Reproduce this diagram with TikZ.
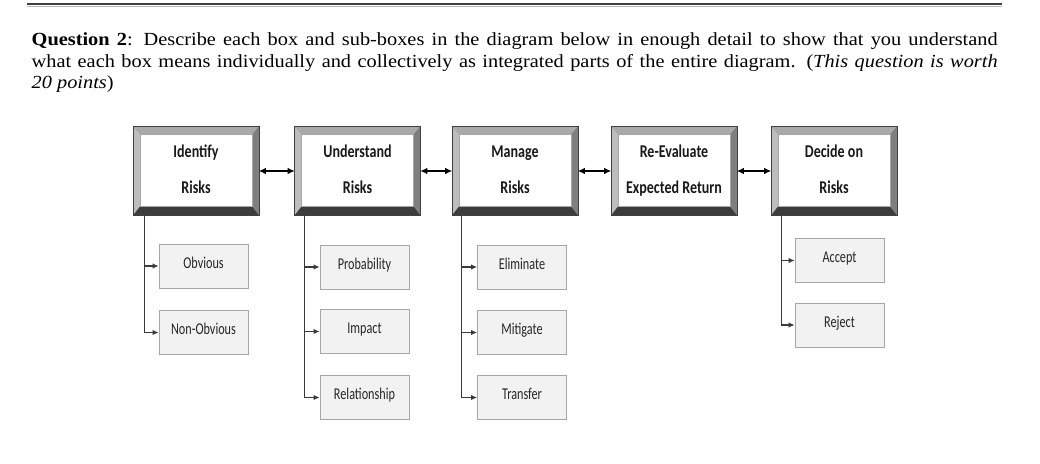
\documentclass[tikz,border=0pt]{standalone}
\usepackage{fontspec}
\setmainfont{Liberation Serif}[FakeStretch=1.1]
\newfontfamily\boxfont{Carlito}[FakeStretch=0.78]
\newfontfamily\subfont{Carlito}[FakeStretch=0.74]
\usetikzlibrary{calc,arrows.meta}
\definecolor{bevtop}{HTML}{A9A9A9}
\definecolor{bevleft}{HTML}{BDBDBD}
\definecolor{bevright}{HTML}{7F7F7F}
\definecolor{bevbot}{HTML}{3C3C3C}
\definecolor{bevmid}{HTML}{8C8C8C}
\definecolor{subfill}{HTML}{F2F2F2}
\definecolor{subdraw}{HTML}{A6A6A6}
\definecolor{linegray}{HTML}{3A3A3A}
\tikzset{
  hdr/.style={anchor=base west, inner sep=0pt, font=\fontsize{18.5}{21}\selectfont},
  mainouter/.style={rectangle, minimum width=125pt, minimum height=88pt, inner sep=0pt, fill=bevmid, draw=black!75, line width=0.6pt},
  maintxt/.style={anchor=base, inner sep=0pt, font=\boxfont\bfseries\fontsize{18}{20}\selectfont, text=black!90},
  subbox/.style={rectangle, minimum width=89pt, minimum height=44pt, inner sep=0pt, fill=subfill, draw=subdraw, line width=0.8pt, font=\subfont\fontsize{16.5}{18}\selectfont, text=black!85, text height=11.5pt, text depth=7.5pt},
  dblarrow/.style={black, line width=1.2pt, {Latex[length=7pt,width=6.5pt]}-{Latex[length=7pt,width=6.5pt]}},
  branch/.style={linegray, line width=1.2pt, -{Latex[length=6pt,width=5.5pt]}},
}
\begin{document}
\begin{tikzpicture}[x=1pt, y=-1pt]
\useasboundingbox (0,0) rectangle (1040,463);
\fill[white] (0,0) rectangle (1040,463);
% top rule
\draw[black!75, line width=2.2pt] (27,4) -- (1002,4);
\draw[gray!55, line width=0.8pt] (27,6) -- (1002,6);
% header text
\node[hdr] (q1) at (31.5,45) {\makebox[966pt][s]{\textbf{Question 2}: Describe each box and sub-boxes in the diagram below in enough detail to show that you understand}};
\node[hdr] (q2) at (31.5,67) {\makebox[966pt][s]{what each box means individually and collectively as integrated parts of the entire diagram. (\textit{This question is worth}}};
\node[hdr] (q3) at (31.5,88) {\textit{20 points})};
% main boxes
\foreach \n/\x/\ta/\tb in {b1/196/Identify/Risks, b2/357.5/Understand/Risks, b3/515/Manage/Risks, b4/674/Re-Evaluate/Expected Return, b5/834/Decide on/Risks}{
  \node[mainouter] (\n) at (\x,171) {};
  \fill[bevtop] (\n.north west) -- (\n.north east) -- ($(\n.north east)+(-7,8)$) -- ($(\n.north west)+(7,8)$) -- cycle;
  \fill[bevleft] (\n.north west) -- ($(\n.north west)+(7,8)$) -- ($(\n.south west)+(7,-9)$) -- (\n.south west) -- cycle;
  \fill[bevright] (\n.north east) -- (\n.south east) -- ($(\n.south east)+(-7,-9)$) -- ($(\n.north east)+(-7,8)$) -- cycle;
  \fill[bevbot] (\n.south west) -- (\n.south east) -- ($(\n.south east)+(-7,-9)$) -- ($(\n.south west)+(7,-9)$) -- cycle;
  \draw[black!75, line width=0.6pt] (\n.north west) rectangle (\n.south east);
  \filldraw[fill=white, draw=gray!70, line width=0.5pt] ($(\n.north west)+(7,8)$) rectangle ($(\n.south east)+(-7,-9)$);
  \node[maintxt] (\n-a) at ($(\n.center)+(0,-14)$) {\ta};
  \node[maintxt] (\n-b) at ($(\n.center)+(0,22)$) {\tb};
}
% arrows between main boxes
\draw[dblarrow] (b1.east) -- (b2.west);
\draw[dblarrow] (b2.east) -- (b3.west);
\draw[dblarrow] (b3.east) -- (b4.west);
\draw[dblarrow] (b4.east) -- (b5.west);
% sub boxes
\node[subbox] (s11) at (203.5,266) {Obvious};
\node[subbox] (s12) at (203.5,332.5) {Non-Obvious};
\node[subbox] (s21) at (364.5,267) {Probability};
\node[subbox] (s22) at (364.5,331.5) {Impact};
\node[subbox] (s23) at (364.5,397.5) {Relationship};
\node[subbox] (s31) at (522,267) {Eliminate};
\node[subbox] (s32) at (522,332.5) {Mitigate};
\node[subbox] (s33) at (522,397.5) {Transfer};
\node[subbox] (s51) at (839.5,260.5) {Accept};
\node[subbox] (s52) at (839.5,325) {Reject};
% trunk coordinates
\coordinate (t1) at ($(b1.south west)+(11.5,0)$);
\coordinate (t2) at ($(b2.south west)+(10,0)$);
\coordinate (t3) at ($(b3.south west)+(9.5,0)$);
\coordinate (t5) at ($(b5.south west)+(10.5,0)$);
% branches
\draw[branch] (t1) |- (s11.west);
\draw[branch] (t1) |- (s12.west);
\draw[branch] (t2) |- (s21.west);
\draw[branch] (t2) |- (s22.west);
\draw[branch] (t2) |- (s23.west);
\draw[branch] (t3) |- (s31.west);
\draw[branch] (t3) |- (s32.west);
\draw[branch] (t3) |- (s33.west);
\draw[branch] (t5) |- (s51.west);
\draw[branch] (t5) |- (s52.west);
\end{tikzpicture}
\end{document}
